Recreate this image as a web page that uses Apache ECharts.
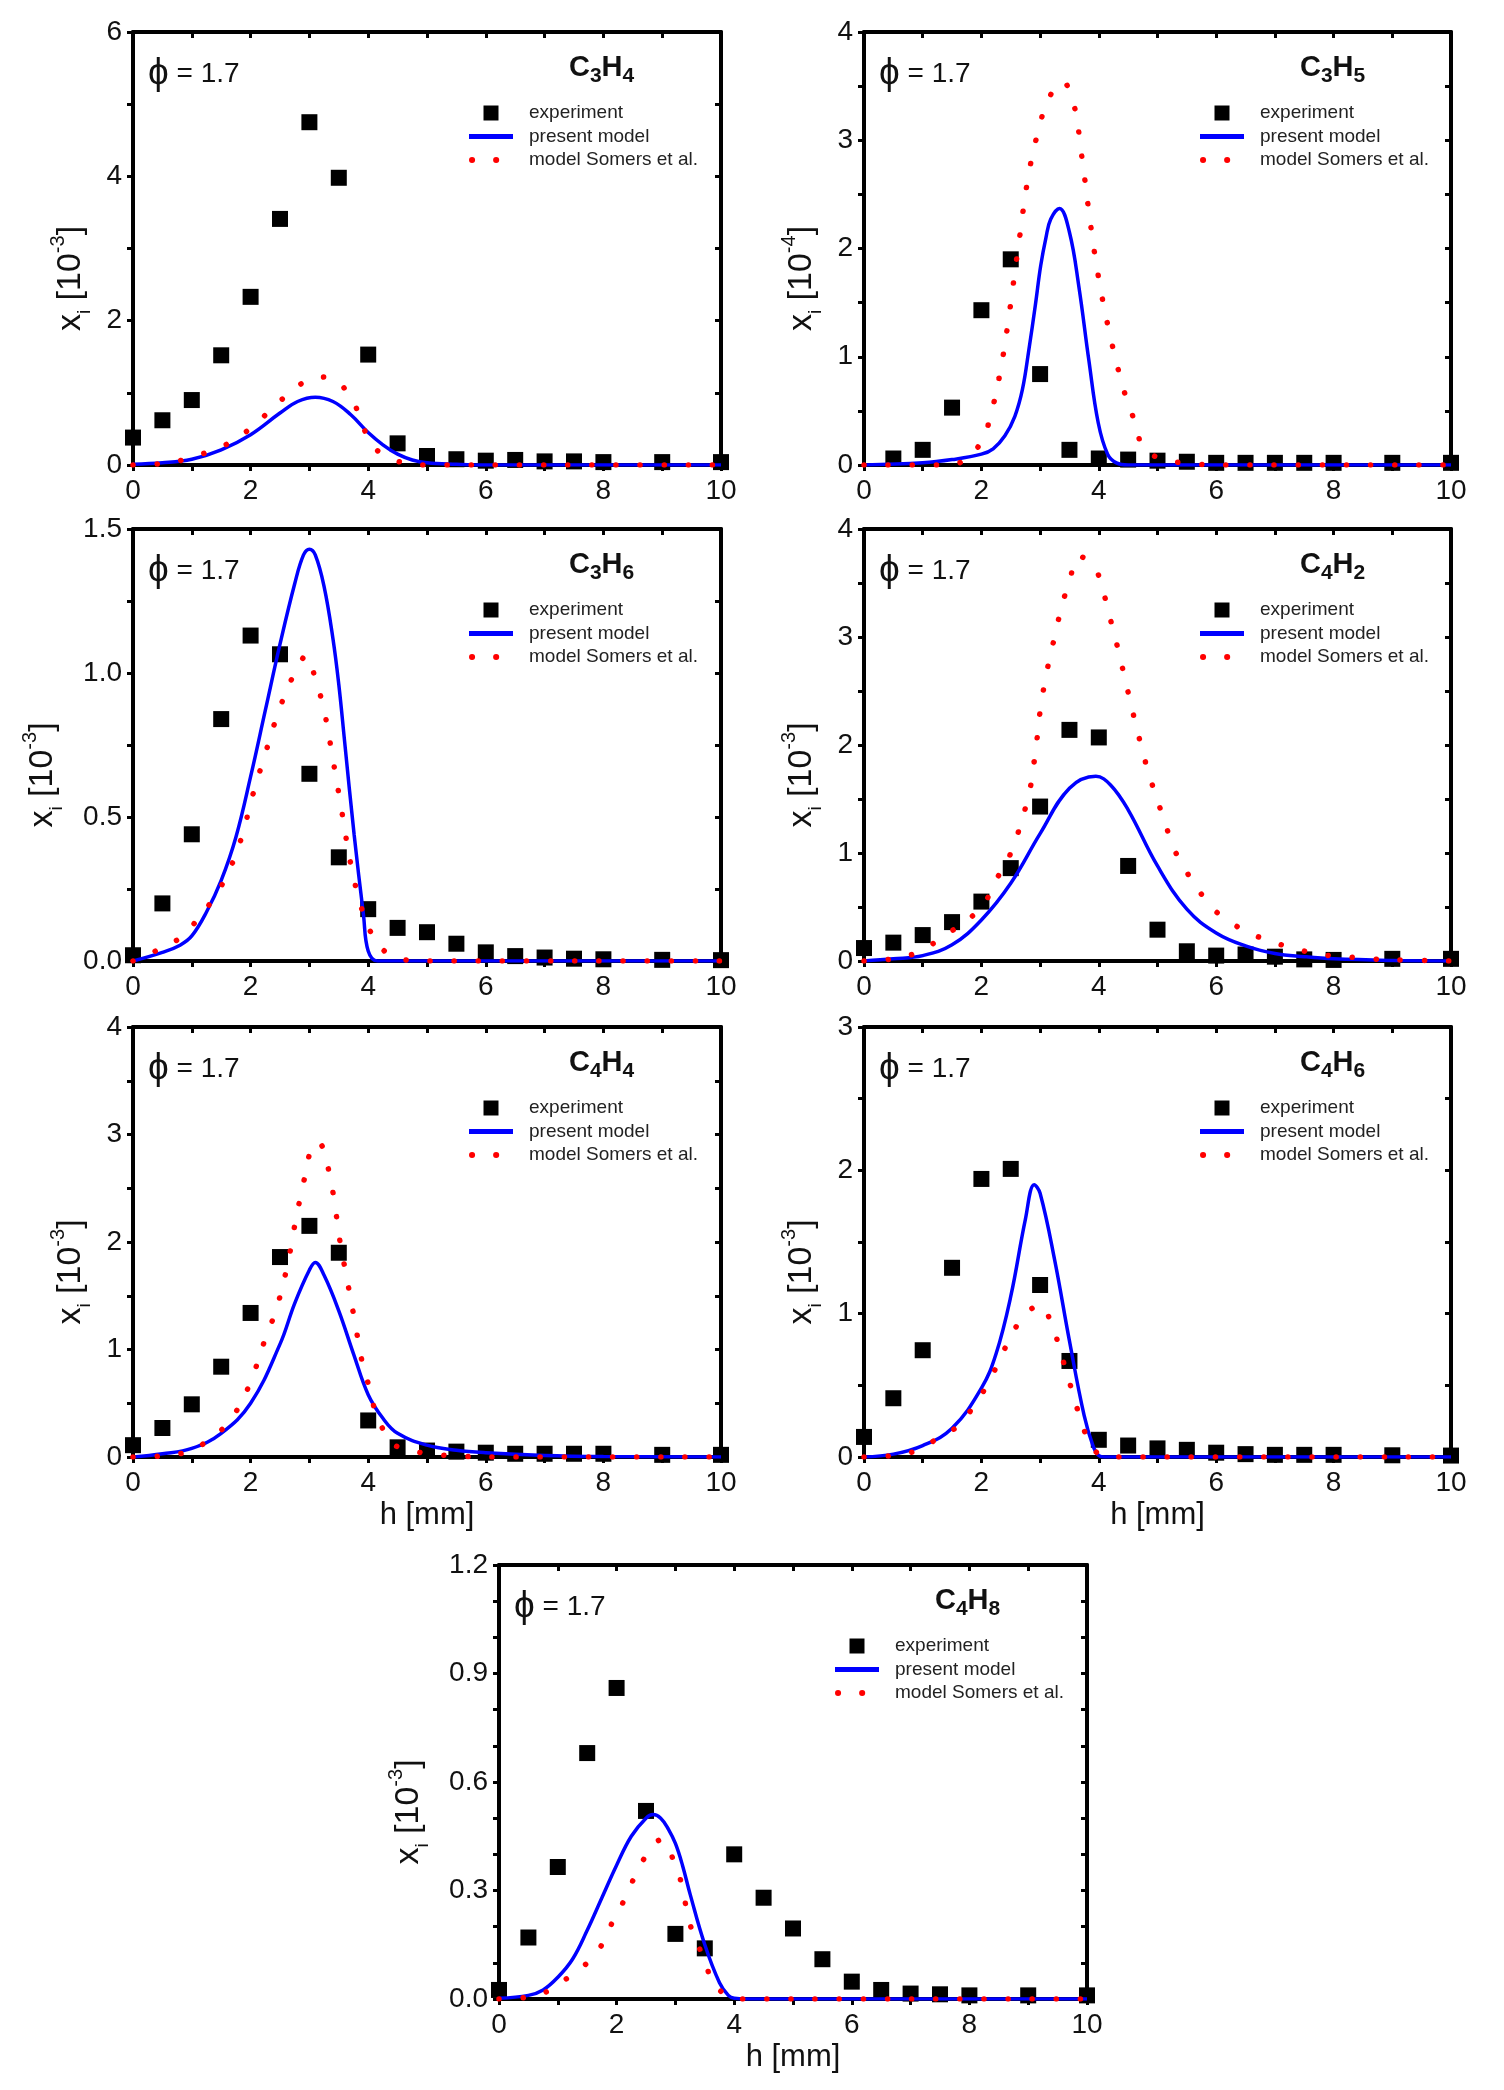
<!DOCTYPE html>
<html><head><meta charset="utf-8">
<script src="https://cdn.jsdelivr.net/npm/echarts@6/dist/echarts.min.js"></script>
<style>html,body{margin:0;padding:0;background:#fff}#c{width:1504px;height:2090px}</style>
</head><body><div id="c"></div>
<script>
// ---------- data ----------
const xExp = [0,0.5,1,1.5,2,2.5,3,3.5,4,4.5,5,5.5,6,6.5,7,7.5,8,9,10];
const xTicks = [0,2,4,6,8,10];

const c3h4YTicks = [0,2,4,6];
const c3h4Exp = [0.38,0.62,0.90,1.52,2.33,3.41,4.75,3.98,1.53,0.30,0.125,0.08,0.06,0.07,0.05,0.05,0.04,0.04,0.04];
const c3h4Present = [[0,0.01],[0.5,0.03],[1,0.08],[1.5,0.21],[2,0.42],[2.5,0.72],[2.8,0.88],[3.1,0.94],[3.4,0.88],[3.7,0.70],[4,0.45],[4.25,0.28],[4.5,0.15],[4.75,0.07],[5,0.03],[5.5,0.01],[6,0],[10,0]];
const c3h4Somers = [[0,0],[0.5,0.02],[0.9,0.08],[1.3,0.19],[1.67,0.32],[2,0.51],[2.3,0.73],[2.62,0.97],[2.97,1.18],[3.17,1.22],[3.37,1.20],[3.7,0.95],[3.86,0.65],[4.02,0.34],[4.2,0.17],[4.43,0.07],[4.77,0.01],[5,0],[10,0]];

const c3h5YTicks = [0,1,2,3,4];
const c3h5Exp = [null,0.06,0.14,0.53,1.43,1.90,0.84,0.14,0.06,0.05,0.04,0.03,0.02,0.02,0.02,0.02,0.02,0.02,0.02];
const c3h5Present = [[0,0],[1,0.02],[1.5,0.05],[2,0.1],[2.2,0.15],[2.4,0.27],[2.57,0.45],[2.7,0.7],[2.81,1.07],[2.92,1.48],[3.01,1.84],[3.1,2.1],[3.18,2.27],[3.33,2.37],[3.5,2.15],[3.66,1.65],[3.83,0.97],[3.99,0.39],[4.15,0.1],[4.3,0.02],[4.5,0],[10,0]];
const c3h5Somers = [[0,0],[1.3,0],[1.67,0.03],[2,0.22],[2.2,0.55],[2.35,0.95],[2.45,1.3],[2.63,2.02],[2.81,2.7],[3,3.15],[3.14,3.38],[3.38,3.54],[3.57,3.34],[3.7,2.89],[3.87,2.18],[3.99,1.75],[4.15,1.3],[4.36,0.82],[4.48,0.6],[4.64,0.36],[4.75,0.17],[5.09,0.05],[5.5,0.02],[6,0],[10,0]];

const c3h6YTicks = [0,0.5,1.0,1.5];
const c3h6Exp = [0.02,0.20,0.44,0.84,1.13,1.065,0.65,0.36,0.18,0.115,0.10,0.06,0.03,0.017,0.012,0.008,0.006,0.004,0.003];
const c3h6Present = [[0,0],[0.5,0.03],[0.8,0.055],[1,0.087],[1.25,0.17],[1.5,0.28],[1.75,0.43],[2,0.64],[2.25,0.87],[2.5,1.10],[2.75,1.31],[2.9,1.41],[3.0,1.43],[3.1,1.41],[3.25,1.30],[3.4,1.12],[3.5,0.96],[3.6,0.76],[3.76,0.44],[3.92,0.16],[4.0,0.035],[4.16,0],[10,0]];
const c3h6Somers = [[0,0],[0.5,0.046],[0.8,0.08],[1.0,0.12],[1.5,0.26],[1.85,0.43],[2.0,0.55],[2.25,0.72],[2.5,0.88],[2.75,1.0],[2.95,1.06],[3.1,0.98],[3.25,0.87],[3.4,0.70],[3.55,0.52],[3.7,0.34],[3.85,0.21],[4.0,0.12],[4.2,0.05],[4.5,0.01],[5,0],[10,0]];

const c4h2YTicks = [0,1,2,3,4];
const c4h2Exp = [0.12,0.17,0.24,0.36,0.55,0.86,1.43,2.14,2.07,0.88,0.29,0.09,0.05,0.06,0.04,0.015,0.01,0.02,0.02];
const c4h2Present = [[0,0],[0.5,0.02],[1,0.05],[1.5,0.15],[2,0.38],[2.5,0.72],[3,1.18],[3.5,1.6],[3.95,1.71],[4.2,1.63],[4.5,1.4],[5,0.88],[5.5,0.48],[6,0.26],[6.5,0.14],[7,0.07],[7.5,0.04],[8,0.02],[9,0.005],[10,0]];
const c4h2Somers = [[0,0],[0.5,0.02],[0.9,0.08],[1.5,0.28],[2,0.5],[2.25,0.75],[2.5,1.0],[2.81,1.55],[2.93,1.98],[3.01,2.35],[3.13,2.72],[3.26,3.03],[3.38,3.31],[3.5,3.51],[3.65,3.75],[3.92,3.65],[4.07,3.43],[4.19,3.18],[4.29,2.97],[4.4,2.72],[4.64,2.17],[4.85,1.74],[5.11,1.31],[5.29,1.03],[5.5,0.82],[5.94,0.49],[6.27,0.35],[6.56,0.26],[7,0.17],[7.37,0.11],[7.78,0.06],[8.2,0.04],[8.63,0.02],[9.04,0.01],[10,0]];

const c4h4YTicks = [0,1,2,3,4];
const c4h4Exp = [0.11,0.27,0.49,0.84,1.34,1.86,2.15,1.90,0.34,0.09,0.06,0.05,0.04,0.03,0.03,0.03,0.03,0.02,0.02];
const c4h4Present = [[0,0],[0.5,0.03],[1,0.08],[1.5,0.22],[2,0.5],[2.5,1.05],[2.75,1.43],[3.0,1.74],[3.1,1.81],[3.25,1.69],[3.5,1.36],[3.75,0.96],[4.0,0.58],[4.25,0.36],[4.5,0.22],[5,0.11],[5.5,0.063],[6,0.04],[7,0.015],[8,0.005],[10,0]];
const c4h4Somers = [[0,0],[0.5,0.01],[1,0.06],[1.24,0.14],[1.54,0.27],[1.75,0.42],[2,0.7],[2.25,1.1],[2.44,1.38],[2.62,1.77],[2.78,2.24],[2.9,2.55],[3.02,2.85],[3.12,2.93],[3.25,2.86],[3.33,2.66],[3.41,2.43],[3.53,1.97],[3.61,1.74],[3.76,1.30],[3.84,1.05],[3.92,0.83],[4.04,0.61],[4.12,0.42],[4.24,0.27],[4.37,0.14],[4.65,0.07],[5.06,0.03],[5.5,0.01],[6,0],[10,0]];

const c4h6YTicks = [0,1,2,3];
const c4h6Exp = [0.14,0.41,0.745,1.32,1.94,2.01,1.20,0.67,0.12,0.08,0.06,0.05,0.03,0.02,0.015,0.015,0.015,0.012,0.01];
const c4h6Present = [[0,0],[0.5,0.02],[1,0.08],[1.5,0.2],[2,0.48],[2.25,0.72],[2.5,1.12],[2.75,1.66],[2.9,1.9],[3.0,1.84],[3.25,1.37],[3.5,0.81],[3.75,0.29],[3.9,0.08],[4.0,0.01],[4.1,0],[10,0]];
const c4h6Somers = [[0,0],[0.5,0.01],[0.86,0.04],[1.22,0.12],[1.55,0.2],[1.83,0.33],[2.08,0.49],[2.28,0.65],[2.44,0.79],[2.65,0.94],[2.99,1.06],[3.22,0.90],[3.34,0.74],[3.46,0.58],[3.58,0.41],[3.7,0.25],[3.83,0.11],[3.99,0.02],[4.1,0],[10,0]];

const c4h8YTicks = [0,0.3,0.6,0.9,1.2];
const c4h8Exp = [0.025,0.17,0.365,0.68,0.86,0.52,0.18,0.14,0.40,0.28,0.195,0.11,0.048,0.025,0.015,0.013,0.01,0.01,0.01];
const c4h8Present = [[0,0.002],[0.5,0.01],[0.75,0.025],[1,0.06],[1.25,0.11],[1.5,0.19],[1.75,0.28],[2,0.37],[2.25,0.45],[2.5,0.50],[2.62,0.51],[2.75,0.50],[2.88,0.47],[3.0,0.43],[3.12,0.37],[3.25,0.29],[3.5,0.15],[3.75,0.045],[3.9,0.01],[4.0,0.002],[4.2,0],[10,0]];
const c4h8Somers = [[0,0],[0.5,0.005],[0.87,0.025],[1.18,0.06],[1.5,0.1],[1.75,0.15],[1.95,0.22],[2.15,0.28],[2.34,0.35],[2.52,0.40],[2.75,0.44],[3.0,0.37],[3.13,0.30],[3.21,0.23],[3.35,0.16],[3.5,0.11],[3.62,0.05],[3.86,0.01],[4.0,0],[10,0]];

const seriesNames = ['experiment','present model','model Somers et al.'];
const phiText = '= 1.7';

// ---------- layout ----------
const FONT = '"Liberation Sans", Arial, Helvetica, sans-serif';
const panels = [
  {sp:['C','3','H','4'], ex:'-3', ticks:c3h4YTicks, e:c3h4Exp, pm:c3h4Present, sm:c3h4Somers, box:[133,32,588,433], minor:2, dec:0, gap:39, xname:false},
  {sp:['C','3','H','5'], ex:'-4', ticks:c3h5YTicks, e:c3h5Exp, pm:c3h5Present, sm:c3h5Somers, box:[864,32,587,433], minor:2, dec:0, gap:39, xname:false},
  {sp:['C','3','H','6'], ex:'-3', ticks:c3h6YTicks, e:c3h6Exp, pm:c3h6Present, sm:c3h6Somers, box:[133,529,588,432], minor:2, dec:1, gap:67, xname:false},
  {sp:['C','4','H','2'], ex:'-3', ticks:c4h2YTicks, e:c4h2Exp, pm:c4h2Present, sm:c4h2Somers, box:[864,529,587,432], minor:2, dec:0, gap:39, xname:false},
  {sp:['C','4','H','4'], ex:'-3', ticks:c4h4YTicks, e:c4h4Exp, pm:c4h4Present, sm:c4h4Somers, box:[133,1027,588,430], minor:2, dec:0, gap:39, xname:true},
  {sp:['C','4','H','6'], ex:'-3', ticks:c4h6YTicks, e:c4h6Exp, pm:c4h6Present, sm:c4h6Somers, box:[864,1027,587,430], minor:2, dec:0, gap:39, xname:true},
  {sp:['C','4','H','8'], ex:'-3', ticks:c4h8YTicks, e:c4h8Exp, pm:c4h8Present, sm:c4h8Somers, box:[499,1565,588,434], minor:3, dec:1, gap:67, xname:true}
];

const option = {animation:false, backgroundColor:'#fff', grid:[], xAxis:[], yAxis:[], series:[], legend:[], title:[]};
const tickStyle = {color:'#000', width:3};
const axLine = {show:true, onZero:false, lineStyle:{color:'#000', width:4}};
const TXT = '#111';

panels.forEach((p,i)=>{
  const [gl,gt,gw,gh] = p.box;
  option.grid.push({left:gl, top:gt, width:gw, height:gh, outerBoundsMode:'none', containLabel:false, show:false});
  const xr = {type:'value', gridIndex:i, min:xTicks[0], max:xTicks[xTicks.length-1], interval:xTicks[1]-xTicks[0], splitLine:{show:false}, axisLine:axLine};
  const yr = {type:'value', gridIndex:i, min:p.ticks[0], max:p.ticks[p.ticks.length-1], interval:+(p.ticks[1]-p.ticks[0]).toFixed(4), splitLine:{show:false}, axisLine:axLine};
  option.xAxis.push(Object.assign({}, xr, {position:'bottom',
    axisTick:{show:true, inside:false, length:6, lineStyle:tickStyle},
    minorTick:{show:true, splitNumber:2, length:6, lineStyle:tickStyle},
    axisLabel:{show:true, fontSize:28, fontFamily:FONT, color:TXT, margin:12},
    name: p.xname ? 'h [mm]' : '', nameLocation:'middle', nameGap:43, nameMoveOverlap:false,
    nameTextStyle:{fontSize:31, fontFamily:FONT, color:TXT}}));
  option.xAxis.push(Object.assign({}, xr, {position:'top',
    axisTick:{show:true, inside:true, length:6, lineStyle:tickStyle},
    minorTick:{show:true, splitNumber:2, length:6, lineStyle:tickStyle},
    axisLabel:{show:false}}));
  option.yAxis.push(Object.assign({}, yr, {position:'left',
    axisTick:{show:true, inside:false, length:6, lineStyle:tickStyle},
    minorTick:{show:true, splitNumber:p.minor, length:6, lineStyle:tickStyle},
    axisLabel:{show:true, fontSize:28, fontFamily:FONT, color:TXT, margin:11, formatter:v=>(+v).toFixed(p.dec)},
    name:'{b|x}{s|i}{b| [10}{u|'+p.ex+'}{b|]}', nameLocation:'middle', nameRotate:90, nameGap:p.gap, nameMoveOverlap:false,
    nameTextStyle:{fontFamily:FONT, color:TXT, padding:[0,60,0,0], rich:{
      b:{fontSize:34, fontFamily:FONT, color:TXT, lineHeight:46, verticalAlign:'middle'},
      s:{fontSize:19, fontFamily:FONT, color:TXT, lineHeight:15, verticalAlign:'bottom'},
      u:{fontSize:20, fontFamily:FONT, color:TXT, lineHeight:18, verticalAlign:'top'}}}}));
  option.yAxis.push(Object.assign({}, yr, {position:'right',
    axisTick:{show:true, inside:true, length:6, lineStyle:tickStyle},
    minorTick:{show:true, splitNumber:p.minor, length:6, lineStyle:tickStyle},
    axisLabel:{show:false}}));

  const expData = xExp.map((x,k)=>[x, p.e[k]]).filter(d=>d[1]!=null);
  option.series.push({name:seriesNames[0], type:'scatter', xAxisIndex:2*i, yAxisIndex:2*i, data:expData,
    symbol:'rect', symbolSize:16, itemStyle:{color:'#000', opacity:1}, z:2});
  option.series.push({name:seriesNames[1], type:'line', xAxisIndex:2*i, yAxisIndex:2*i, data:p.pm,
    symbol:'none', smooth:0.4, lineStyle:{color:'#0000ff', width:3.5}, itemStyle:{color:'#0000ff'}, z:3});
  option.series.push({name:seriesNames[2], type:'line', xAxisIndex:2*i, yAxisIndex:2*i, data:p.sm,
    symbol:'none', smooth:0.4, lineStyle:{color:'#ff0000', width:5.5, type:[0.1,24], cap:'round'}, itemStyle:{color:'#ff0000'}, z:4});

  option.legend.push({orient:'vertical', left:gl+333, top:gt+71, padding:0, itemWidth:44, itemHeight:15, itemGap:3.5,
    selectedMode:false, symbolKeepAspect:true,
    textStyle:{fontSize:19, fontFamily:FONT, color:'#222', lineHeight:20, padding:[0,0,0,11]},
    data:[
      {name:seriesNames[0], icon:'path://M0,0L10,0L10,10L0,10Z', itemStyle:{color:'#000', opacity:1}},
      {name:seriesNames[1], itemStyle:{opacity:0}, lineStyle:{color:'#0000ff', width:5, type:'solid'}},
      {name:seriesNames[2], itemStyle:{opacity:0}, lineStyle:{color:'#ff0000', width:6, type:[0.1,24], cap:'round', dashOffset:-3}}
    ]});

  option.title.push({text:'{p|ϕ}{t| '+phiText+'}', left:gl+15, top:gt+19, padding:0,
    textStyle:{fontWeight:'normal', rich:{p:{fontSize:37, fontWeight:'normal', fontFamily:FONT, color:TXT, lineHeight:46},
                                       t:{fontSize:28, fontWeight:'normal', fontFamily:FONT, color:TXT, lineHeight:46}}}});
  const spText = p.sp.map((c,k)=> (k%2===0 ? '{b|'+c+'}' : '{s|'+c+'}')).join('');
  option.title.push({text:spText, left:gl+436, top:gt+17, padding:0,
    textStyle:{rich:{b:{fontSize:29, fontWeight:'bold', fontFamily:FONT, color:TXT, lineHeight:38, verticalAlign:'middle'},
                     s:{fontSize:21, fontWeight:'bold', fontFamily:FONT, color:TXT, lineHeight:17, verticalAlign:'bottom'}}}});
});

const chart = echarts.init(document.getElementById('c'), null, {renderer:'canvas', width:1504, height:2090});
chart.setOption(option);
</script>
</body></html>
